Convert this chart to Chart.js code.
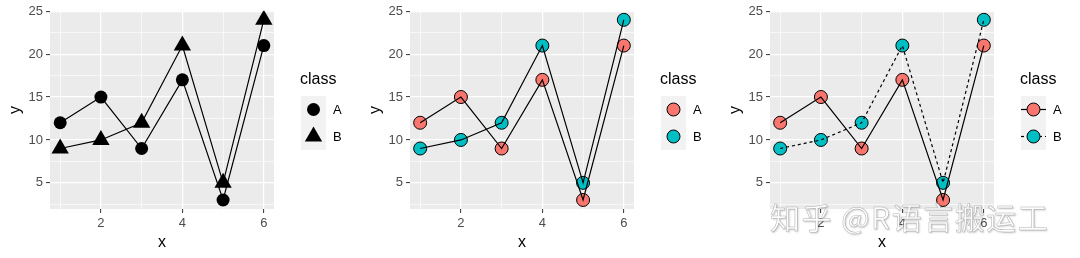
<!DOCTYPE html>
<html>
<head>
<meta charset="utf-8">
<script src="https://cdn.jsdelivr.net/npm/chart.js@4/dist/chart.umd.min.js"></script>
<style>
html, body { margin: 0; padding: 0; background: #fff; }
#wrap { position: relative; width: 1080px; height: 258px; display: flex; }
canvas { display: block; }
#mark {
    position: absolute; left: 770px; top: 194px;
    font: 30px "Noto Sans CJK SC"; letter-spacing: 1.5px; white-space: nowrap;
    color: rgba(255, 255, 255, 0.95);
    -webkit-text-stroke: 0.5px rgba(130, 130, 130, 0.6);
    text-shadow: 1px 1px 2px rgba(60, 60, 60, 0.3);
}
</style>
</head>
<body>
<div id="wrap">
    <canvas id="p1" width="360" height="258"></canvas>
    <canvas id="p2" width="360" height="258"></canvas>
    <canvas id="p3" width="360" height="258"></canvas>
    <div id="mark">知乎 @R语言搬运工</div>
</div>
<script>
const xValues = [1, 2, 3, 4, 5, 6];
const classA = [12, 15, 9, 17, 3, 21];
const classB = [9, 10, 12, 21, 5, 24];
const classNames = ['A', 'B'];
const xTicks = [1, 2, 3, 4, 5, 6];
const xMajor = [2, 4, 6];
const yTicks = [2.5, 5, 7.5, 10, 12.5, 15, 17.5, 20, 22.5, 25];
const yMajor = [5, 10, 15, 20, 25];
const legendTitle = 'class';

const FONT = '"Liberation Sans", Arial, sans-serif';

function toPoints(vals) {
    return xValues.map((x, i) => ({ x: x, y: vals[i] }));
}

// draw a marker in the legend (circle or triangle, like the chart points)
function drawMarker(ctx, style, x, y) {
    ctx.save();
    ctx.fillStyle = style.fill;
    ctx.strokeStyle = style.border;
    ctx.lineWidth = style.borderWidth;
    if (Chart.helpers && Chart.helpers.drawPoint) {
        Chart.helpers.drawPoint(ctx, { pointStyle: style.shape, radius: style.radius, rotation: 0, borderWidth: style.borderWidth }, x, y);
    } else {
        ctx.beginPath();
        ctx.arc(x, y, style.radius, 0, Math.PI * 2);
        ctx.fill();
        if (style.borderWidth) ctx.stroke();
    }
    ctx.restore();
}

const bgPlugin = {
    id: 'panelBg',
    beforeDraw(chart) {
        const a = chart.chartArea;
        const ctx = chart.ctx;
        ctx.save();
        ctx.fillStyle = '#EBEBEB';
        ctx.fillRect(a.left, a.top, a.right - a.left, a.bottom - a.top);
        ctx.restore();
    }
};

const legendPlugin = {
    id: 'ggLegend',
    afterDraw(chart, args, opts) {
        const ctx = chart.ctx;
        const x0 = chart.chartArea.right + 27;
        ctx.save();
        ctx.fillStyle = '#000';
        ctx.font = '16px ' + FONT;
        ctx.textBaseline = 'middle';
        ctx.fillText(legendTitle, x0 - 1, 80);
        ctx.fillStyle = '#F2F2F2';
        ctx.fillRect(x0, 96, 25, 54);
        opts.keys.forEach((k, i) => {
            const cy = 109.5 + i * 27;
            const cx = x0 + 12.5;
            if (k.line) {
                ctx.save();
                ctx.strokeStyle = '#000';
                ctx.lineWidth = 1.2;
                ctx.setLineDash(k.dash || []);
                ctx.beginPath();
                ctx.moveTo(x0, cy);
                ctx.lineTo(x0 + 25, cy);
                ctx.stroke();
                ctx.restore();
            }
            drawMarker(ctx, k, cx, cy);
            ctx.fillStyle = '#000';
            ctx.font = '13px ' + FONT;
            ctx.fillText(classNames[i], x0 + 32, cy + 1);
        });
        ctx.restore();
    }
};

function axis(ticks, major, min, max, titleText, isY) {
    return {
        type: 'linear',
        min: min,
        max: max,
        afterBuildTicks: s => { s.ticks = ticks.map(v => ({ value: v })); },
        afterFit: s => { if (isY) s.width = 50; else s.height = 49; },
        border: { display: false },
        grid: {
            color: '#FFFFFF',
            lineWidth: c => major.includes(c.tick.value) ? 1.2 : 0.6,
            tickColor: c => major.includes(c.tick.value) ? '#333333' : 'rgba(0,0,0,0)',
            tickLength: 4,
            tickWidth: 1
        },
        ticks: {
            autoSkip: false,
            maxRotation: 0,
            padding: 3,
            color: '#4D4D4D',
            font: { family: FONT, size: 13 },
            callback: v => major.includes(v) ? String(v) : ''
        },
        title: {
            display: true,
            text: titleText,
            color: '#000',
            font: { family: FONT, size: 16 },
            padding: isY ? { top: 6, bottom: 0 } : { top: 0, bottom: 6 }
        }
    };
}

function makePanel(id, styleA, styleB, lineA, lineB) {
    const styles = [styleA, styleB];
    const lines = [lineA, lineB];
    const series = [classA, classB];
    const datasets = [];
    // lines first, then points on top (as ggplot layers)
    series.forEach((vals, i) => {
        datasets.push({
            data: toPoints(vals),
            showLine: true,
            borderColor: '#000',
            borderWidth: 1.2,
            borderDash: lines[i].dash || [],
            pointRadius: 0,
            tension: 0
        });
    });
    series.forEach((vals, i) => {
        const s = styles[i];
        datasets.push({
            label: classNames[i],
            data: toPoints(vals),
            showLine: false,
            pointStyle: s.shape,
            pointRadius: s.radius,
            pointBackgroundColor: s.fill,
            pointBorderColor: s.border,
            pointBorderWidth: s.borderWidth
        });
    });
    const keys = styles.map((s, i) => Object.assign({}, s, { line: lines[i].legend, dash: lines[i].dash }));

    new Chart(document.getElementById(id), {
        type: 'scatter',
        data: { datasets: datasets },
        options: {
            responsive: false,
            animation: false,
            devicePixelRatio: 1,
            layout: { padding: { left: 0, right: 86, top: 8, bottom: 0 } },
            plugins: {
                legend: { display: false },
                tooltip: { enabled: false },
                ggLegend: { keys: keys }
            },
            scales: {
                x: axis(xTicks, xMajor, 0.75, 6.25, 'x', false),
                y: axis(yTicks, yMajor, 1.95, 25.05, 'y', true)
            }
        },
        plugins: [bgPlugin, legendPlugin]
    });
}

const blackCircle = { shape: 'circle', radius: 6.5, fill: '#000', border: '#000', borderWidth: 0 };
const blackTriangle = { shape: 'triangle', radius: 10, fill: '#000', border: '#000', borderWidth: 0 };
const redCircle = { shape: 'circle', radius: 6.5, fill: '#F8766D', border: '#000', borderWidth: 1 };
const cyanCircle = { shape: 'circle', radius: 6.5, fill: '#00BFC4', border: '#000', borderWidth: 1 };

makePanel('p1', blackCircle, blackTriangle, {}, {});
makePanel('p2', redCircle, cyanCircle, {}, {});
makePanel('p3', redCircle, cyanCircle, { legend: true }, { legend: true, dash: [3, 3] });
</script>
</body>
</html>
